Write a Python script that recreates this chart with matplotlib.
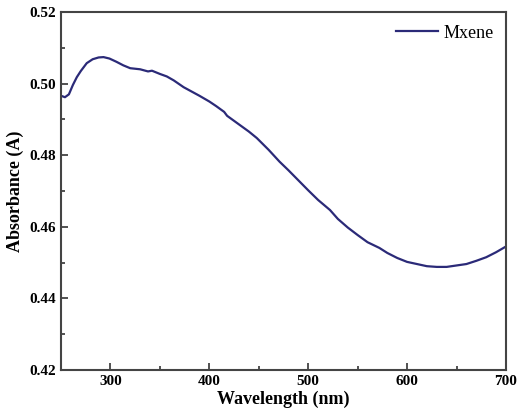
import numpy as np
from matplotlib import pyplot as plt

wavelength = np.array([250, 254, 258, 262, 266, 270, 276, 282, 288, 293, 299, 306, 313, 320,
                       330, 338, 342, 350, 357, 364, 374, 382, 390, 400, 407, 415, 418, 424,
                       431, 440, 448, 460, 471, 480, 490, 500, 510, 522, 530, 540, 550, 560,
                       572, 580, 590, 600, 610, 620, 630, 640, 650, 660, 670, 680, 690, 700])
absorbance = np.array([0.4966, 0.4962, 0.4970, 0.4996, 0.5018, 0.5035, 0.5057, 0.5068, 0.5073,
                       0.5074, 0.5070, 0.5061, 0.5051, 0.5043, 0.5040, 0.5034, 0.5036, 0.5027,
                       0.5020, 0.5009, 0.4990, 0.4978, 0.4966, 0.4950, 0.4937, 0.4921, 0.4910,
                       0.4898, 0.4884, 0.4866, 0.4848, 0.4815, 0.4782, 0.4758, 0.4730, 0.4702,
                       0.4675, 0.4647, 0.4622, 0.4598, 0.4577, 0.4557, 0.4541, 0.4527, 0.4513,
                       0.4502, 0.4496, 0.4490, 0.4488, 0.4488, 0.4492, 0.4496, 0.4505, 0.4515,
                       0.4529, 0.4545])

plt.rcParams['font.family'] = ['Liberation Serif', 'DejaVu Serif']

fig = plt.figure(figsize=(5.2, 4.18), dpi=100)
ax = fig.add_axes([0.1173, 0.1148, 0.8557, 0.8565])

ax.plot(wavelength, absorbance, c='#2b2a78', lw=1.6, label='Mxene')

ax.set_xlim(250, 700)
ax.set_ylim(0.42, 0.52)
ax.set_xticks([300, 400, 500, 600, 700])
ax.set_xticks([350, 450, 550, 650], minor=True)
ax.set_yticks([0.42, 0.44, 0.46, 0.48, 0.50, 0.52])
ax.set_yticks([0.43, 0.45, 0.47, 0.49, 0.51], minor=True)
ax.yaxis.set_major_formatter(plt.FormatStrFormatter('%.2f'))

ax.tick_params(which='both', direction='in', colors='#333333', labelcolor='black',
               width=1.2, labelsize=11)
ax.tick_params(which='major', length=5)
ax.tick_params(which='minor', length=3)
for lab in ax.get_xticklabels() + ax.get_yticklabels():
    lab.set_fontweight('bold')
for s in ax.spines.values():
    s.set_linewidth(1.5)
    s.set_color('#444444')

ax.set_xlabel('Wavelength (nm)', fontsize=13, fontweight='bold', labelpad=2)
ax.set_ylabel('Absorbance (A)', fontsize=13, fontweight='bold', labelpad=4)

ax.legend(loc='upper right', frameon=False, fontsize=13, handlelength=2.3,
          handletextpad=0.3, borderaxespad=0.3)

fig.savefig('out.png', dpi=100)
